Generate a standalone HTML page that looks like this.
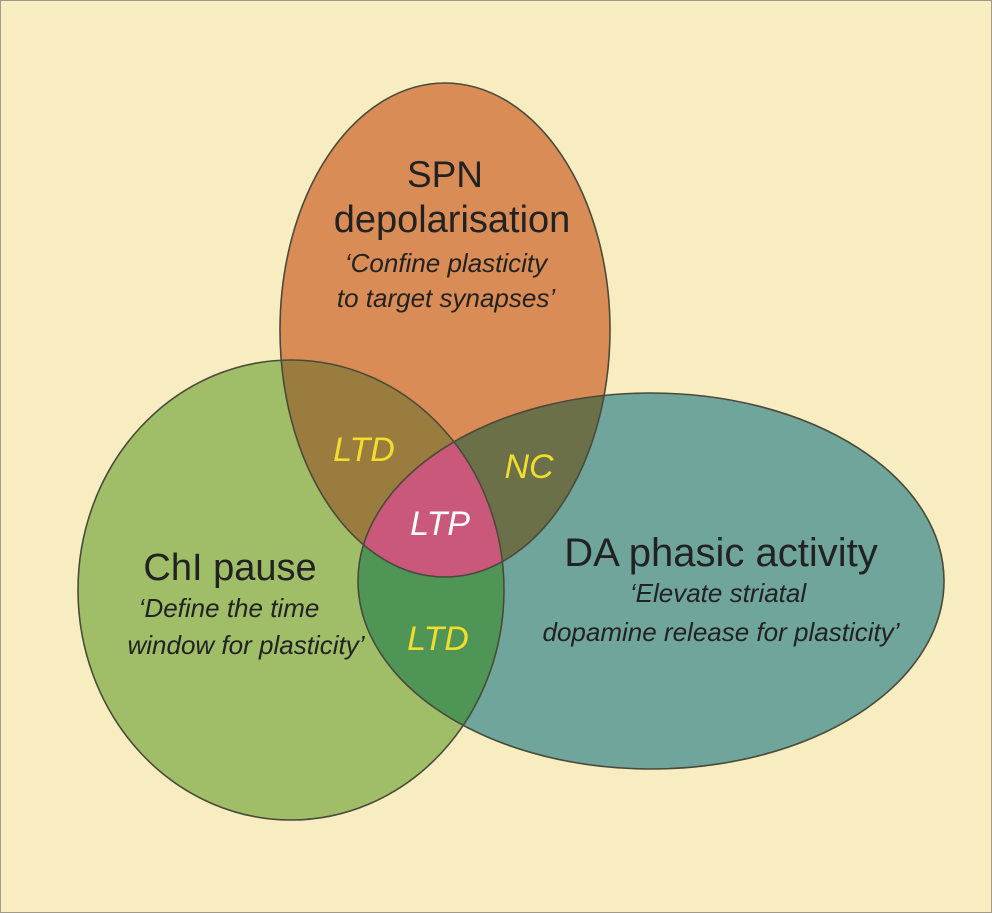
<!DOCTYPE html>
<html><head><meta charset="utf-8"><style>
html,body{margin:0;padding:0;background:#f8edc0;}
svg{display:block;}
text{font-family:"Liberation Sans",sans-serif;}
</style></head><body>
<svg width="992" height="913" viewBox="0 0 992 913" xmlns="http://www.w3.org/2000/svg">
<defs>
<clipPath id="cO"><ellipse cx="445" cy="330" rx="165" ry="247"/></clipPath>
<clipPath id="cG"><ellipse cx="291" cy="590" rx="213" ry="230"/></clipPath>
<clipPath id="cT"><ellipse cx="651" cy="581" rx="293" ry="188"/></clipPath>
</defs>
<rect x="0.5" y="0.5" width="991" height="912" fill="#f8edc0" stroke="#a09a88" stroke-width="1"/>
<ellipse cx="291" cy="590" rx="213" ry="230" fill="#a0bd68"/>
<ellipse cx="651" cy="581" rx="293" ry="188" fill="#6fa59b"/>
<ellipse cx="445" cy="330" rx="165" ry="247" fill="#d98c56"/>
<g clip-path="url(#cO)"><ellipse cx="291" cy="590" rx="213" ry="230" fill="#9a7d3e"/><ellipse cx="651" cy="581" rx="293" ry="188" fill="#6b7049"/></g>
<g clip-path="url(#cG)"><ellipse cx="651" cy="581" rx="293" ry="188" fill="#4e9556"/></g>
<g clip-path="url(#cO)"><g clip-path="url(#cG)"><ellipse cx="651" cy="581" rx="293" ry="188" fill="#c9587a"/></g></g>
<g fill="none" stroke="#4a4a3a" stroke-width="1.6">
<ellipse cx="445" cy="330" rx="165" ry="247"/>
<ellipse cx="291" cy="590" rx="213" ry="230"/>
<ellipse cx="651" cy="581" rx="293" ry="188"/>
</g>
<g fill="#222" text-anchor="middle">
<text x="445" y="187" font-size="37">SPN</text>
<text x="452" y="232" font-size="38">depolarisation</text>
<text x="446" y="272" font-size="26" font-style="italic">‘Confine plasticity</text>
<text x="446" y="307" font-size="26" font-style="italic">to target synapses’</text>
<text x="230" y="580" font-size="38">ChI pause</text>
<text x="229" y="617" font-size="26" font-style="italic">‘Define the time</text>
<text x="246" y="654" font-size="26" font-style="italic">window for plasticity’</text>
<text x="721" y="566" font-size="40">DA phasic activity</text>
<text x="718" y="602" font-size="26" font-style="italic">‘Elevate striatal</text>
<text x="721" y="641" font-size="26" font-style="italic">dopamine release for plasticity’</text>
</g>
<g font-size="34" font-style="italic" text-anchor="middle">
<text x="364" y="461" fill="#f2dc2e">LTD</text>
<text x="529" y="478" fill="#f2dc2e">NC</text>
<text x="440" y="535" fill="#ffffff">LTP</text>
<text x="438" y="650" fill="#f2dc2e">LTD</text>
</g>
</svg>
</body></html>
